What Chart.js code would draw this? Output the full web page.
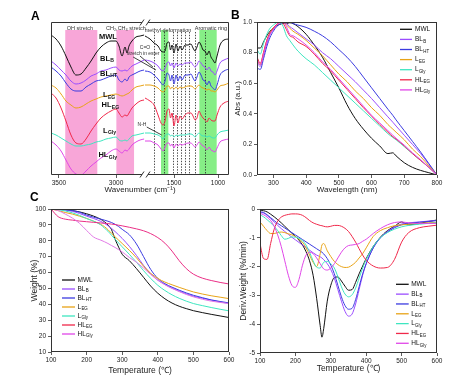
<!DOCTYPE html>
<html><head><meta charset="utf-8">
<script src="https://cdn.jsdelivr.net/npm/chart.js@4.4.1/dist/chart.umd.min.js"></script>
<style>
html,body{margin:0;padding:0;background:#fff;width:474px;height:381px;overflow:hidden;position:relative}
canvas{position:absolute}
.pl{position:absolute;font:bold 12px Arial,"Liberation Sans",sans-serif;color:#000;z-index:5}
</style></head><body>
<canvas id="cA" width="237" height="196" style="left:0;top:0"></canvas>
<canvas id="cB" width="246" height="196" style="left:228px;top:0"></canvas>
<canvas id="cC" width="237" height="191" style="left:0;top:190px"></canvas>
<canvas id="cD" width="246" height="191" style="left:228px;top:190px"></canvas>
<div class="pl" style="left:31px;top:9px">A</div>
<div class="pl" style="left:231px;top:8px">B</div>
<div class="pl" style="left:30px;top:190px">C</div>
<script>
// ---------- shared series info ----------
const seriesNames = [['MWL',''],['BL','B'],['BL','HT'],['L','EG'],['L','Gly'],['HL','EG'],['HL','Gly']];
const seriesColors = ['#111111','#9b4dff','#3b3be0','#e8a317','#3ee6c0','#f0284a','#e046e8'];
const tgaColors = ['#111111','#9b4dff','#3b3be0','#e8a317','#3ee6c0','#ea2f86','#e27ae6'];

// ---------- A: FTIR (transmittance, offset, a.u.) ----------
const ftirWnLeft = [3570,3526,3482,3439,3395,3351,3307,3263,3219,3175,3132,3088,3044,3000,2974,2947,2921,2904,2886,2860,2825,2789,2754];
const ftirWnRight = [1830,1773,1727,1682,1648,1625,1602,1580,1557,1540,1523,1500,1477,1455,1432,1409,1375,1341,1307,1284,1261,1239,1216,1193,1170,1148,1125,1102,1080,1057,1034,1011,977,932,875];
const ftirTicksLeft = [3500, 3000];
const ftirTicksRight = [1500, 1000];
const ftirMWL_L  = [140,136,129,119,108,100,101,107,114,122,128,132,134,134,129,119,128,122,129,134,138,139,140];
const ftirBLB_L  = [114,110,105,100,94,91,92,95,99,101,104,105,107,108,105,104,105,104,106,109,111,113,115];
const ftirBLHT_L = [108,104,99,92,86,84,84,88,91,94,95,97,99,100,95,93,96,94,98,100,102,104,105];
const ftirLEG_L  = [90,87,81,74,70,67,68,71,74,76,78,79,80,81,80,79,80,81,82,85,88,89,90];
const ftirLGly_L = [42,40,37,34,31,29,29,30,31,33,34,36,37,38,35,34,35,34,36,39,40,41,42];
const ftirHLEG_L = [82,77,67,54,40,32,31,36,44,51,57,61,64,66,62,58,60,59,62,67,71,74,75];
const ftirHLGly_L= [34,30,24,15,6,1,0,4,9,13,17,20,24,26,24,22,25,24,26,30,33,35,36];
const ftirMWL_R  = [139,136,132,129,124,123,124,132,133,125,130,122,131,124,129,125,130,130,131,127,124,128,133,130,125,124,120,124,118,115,112,119,130,135,136];
const ftirBLB_R  = [115,114,112,109,105,104,107,112,113,109,112,107,112,109,111,110,112,112,113,110,108,110,114,112,109,108,105,108,104,103,100,104,112,115,117];
const ftirBLHT_R = [104,103,100,96,92,90,94,102,100,94,100,91,100,94,99,95,100,100,101,97,94,98,103,100,95,94,90,94,89,87,85,90,100,104,106];
const ftirLEG_R  = [90,90,89,87,84,83,85,89,89,86,88,86,88,86,88,87,88,89,89,88,86,88,90,88,87,86,85,86,84,84,83,85,89,90,92];
const ftirLGly_R = [42,42,41,40,38,36,39,41,41,39,40,38,40,39,40,40,40,41,41,40,38,40,42,40,39,39,38,39,38,37,37,40,43,44,45];
const ftirHLEG_R = [77,74,70,60,52,50,54,64,66,57,62,49,60,52,59,56,60,62,62,59,55,57,64,60,57,55,53,57,55,54,54,60,68,72,74];
const ftirHLGly_R= [34,34,32,30,26,24,28,32,32,29,31,27,31,29,31,30,31,32,32,30,28,30,33,31,29,28,25,28,25,24,23,27,33,35,36];
const ftirPinkBands = [[3445,3164],[2997,2842]];
const ftirGreenBands = [[1648,1565],[1212,1015]];
const ftirDashedLines = [1733,1614,1514,1468,1420,1373,1325,1267,1148];

// ---------- B: UV-Vis ----------
const uvWavelength = [250,260,270,280,290,300,310,320,330,340,350,360,375,400,425,450,475,500,525,550,575,600,625,650,665,675,700,725,750,775,800];
const uvMWL  = [0.83,0.83,0.87,0.91,0.94,0.96,0.975,0.985,0.99,0.99,0.995,0.99,0.97,0.92,0.85,0.77,0.67,0.57,0.46,0.37,0.30,0.24,0.19,0.14,0.145,0.125,0.08,0.05,0.03,0.015,0.0];
const uvBLB  = [0.73,0.71,0.78,0.86,0.92,0.95,0.98,0.995,1.0,0.99,0.97,0.955,0.93,0.89,0.85,0.80,0.76,0.71,0.66,0.61,0.555,0.50,0.44,0.38,0.345,0.32,0.26,0.20,0.14,0.07,0.0];
const uvBLHT = [0.70,0.69,0.76,0.84,0.90,0.94,0.97,0.985,0.995,1.0,1.0,0.99,0.98,0.965,0.94,0.91,0.87,0.82,0.77,0.71,0.64,0.57,0.50,0.43,0.39,0.36,0.29,0.22,0.15,0.075,0.0];
const uvLEG  = [0.75,0.72,0.80,0.88,0.93,0.96,0.98,0.995,1.0,0.98,0.96,0.94,0.92,0.88,0.83,0.78,0.72,0.66,0.61,0.55,0.50,0.44,0.39,0.33,0.30,0.28,0.23,0.17,0.12,0.06,0.0];
const uvLGly = [0.82,0.79,0.86,0.92,0.96,0.98,0.995,1.0,0.97,0.91,0.88,0.85,0.81,0.76,0.72,0.67,0.62,0.57,0.52,0.47,0.42,0.37,0.32,0.27,0.245,0.23,0.185,0.14,0.095,0.05,0.0];
const uvHLEG = [0.77,0.73,0.80,0.88,0.93,0.96,0.985,1.0,0.99,0.95,0.91,0.90,0.87,0.84,0.79,0.73,0.68,0.62,0.56,0.50,0.44,0.385,0.33,0.28,0.25,0.235,0.19,0.14,0.095,0.05,0.0];
const uvHLGly= [0.75,0.72,0.79,0.87,0.92,0.95,0.98,0.995,1.0,0.97,0.92,0.91,0.89,0.85,0.80,0.74,0.69,0.63,0.57,0.51,0.45,0.39,0.34,0.29,0.26,0.24,0.195,0.145,0.10,0.05,0.0];

// ---------- C: TGA ----------
const tgaTemp = [100,120,140,160,180,200,220,240,250,260,270,280,290,300,320,340,360,380,400,420,440,460,480,500,525,550,575,600];
const tgaMWL  = [100,99.8,99.5,99,98.2,97,95.5,93.5,92,90,87,81,76,71.5,67.5,62.5,57,51.5,47,43.5,40.8,38.8,37.3,36,34.8,33.7,32.7,31.7];
const tgaBLB  = [100,99.8,99.3,98.5,97.2,95.5,94,92.2,91,89.5,87.8,85.8,83.7,81.5,76.5,70.8,64.5,59.3,55.2,52.5,50.2,48.3,46.6,45.1,43.8,42.6,41.5,40.5];
const tgaBLHT = [100,99.9,99.6,99,98,96.2,94.8,93.6,93,92.3,91.5,90.4,89,87.2,83.8,78,70,62,56.3,53,50.8,48.9,47.2,45.7,44.2,42.8,41.8,40.9];
const tgaLEG  = [100,99,97.8,96.8,95.5,94.1,92.3,90.3,88.9,87,84.7,82.5,80.4,78.3,74,69.3,64,59.5,56.3,54,52.3,50.7,49.2,47.8,46.5,45.4,44.5,43.6];
const tgaLGly = [100,99.6,98.8,97.6,96,94,92.3,90,88,86,83.5,81,78.6,76.2,71.5,66.5,61.2,56.3,52,48.7,46,43.8,42,40.5,39.2,38,36.9,35.9];
const tgaHLEG = [100,95.2,93.6,93,92.4,92,91.6,91.2,91,90.8,90.5,90.2,89.8,89.4,88.5,87.5,86.3,84.5,82,78.5,73.5,67.5,62.5,59,56.5,55,53.8,52.8];
const tgaHLGly= [100,99,96.8,94.3,91,86.5,82.3,80.4,79.4,78.3,77,75.8,74.4,73,69.5,66.5,62.8,58.8,55.2,52.3,50,48,46.2,44.7,43.2,42,41.2,40.5];

// ---------- D: DTG ----------
const dtgTemp = [100,110,120,130,140,150,160,170,180,190,200,210,220,230,240,250,260,270,275,280,290,300,310,320,330,340,350,360,370,380,390,400,420,440,460,480,500,520,550,575,600];
const dtgMWL  = [-0.05,-0.06,-0.10,-0.18,-0.27,-0.37,-0.48,-0.60,-0.72,-0.84,-0.95,-1.08,-1.25,-1.48,-1.80,-2.30,-3.10,-4.05,-4.45,-4.15,-3.2,-2.65,-2.38,-2.36,-2.5,-2.68,-2.82,-2.8,-2.55,-2.25,-1.98,-1.72,-1.3,-0.98,-0.75,-0.6,-0.45,-0.55,-0.5,-0.44,-0.38];
const dtgBLB  = [-0.12,-0.14,-0.22,-0.33,-0.45,-0.57,-0.68,-0.78,-0.88,-0.98,-1.07,-1.16,-1.25,-1.34,-1.43,-1.52,-1.6,-1.66,-1.7,-1.76,-1.9,-2.1,-2.4,-2.8,-3.2,-3.55,-3.72,-3.65,-3.3,-2.8,-2.3,-1.9,-1.35,-1.0,-0.78,-0.62,-0.52,-0.48,-0.45,-0.42,-0.4];
const dtgBLHT = [-0.1,-0.12,-0.2,-0.3,-0.4,-0.5,-0.58,-0.66,-0.74,-0.82,-0.9,-0.98,-1.06,-1.14,-1.22,-1.3,-1.38,-1.46,-1.5,-1.56,-1.72,-1.95,-2.25,-2.65,-3.05,-3.35,-3.48,-3.45,-3.15,-2.7,-2.25,-1.9,-1.35,-1.0,-0.8,-0.65,-0.55,-0.5,-0.46,-0.43,-0.4];
const dtgLEG  = [-0.45,-0.6,-0.75,-0.85,-0.85,-0.82,-0.8,-0.82,-0.86,-0.9,-0.95,-1.05,-1.15,-1.35,-1.6,-1.85,-2.0,-1.55,-1.25,-1.2,-1.45,-1.65,-1.82,-1.93,-2.0,-2.03,-2.02,-1.95,-1.85,-1.7,-1.55,-1.35,-0.95,-0.75,-0.65,-0.58,-0.55,-0.53,-0.5,-0.48,-0.46];
const dtgLGly = [-0.2,-0.27,-0.37,-0.48,-0.6,-0.75,-0.92,-1.05,-1.02,-0.97,-0.98,-1.02,-1.1,-1.25,-1.5,-1.8,-2.02,-2.05,-1.95,-1.85,-1.82,-1.9,-2.05,-2.35,-2.7,-2.95,-3.05,-2.98,-2.75,-2.4,-2.05,-1.75,-1.3,-1.0,-0.82,-0.7,-0.62,-0.57,-0.53,-0.5,-0.48];
const dtgHLEG = [-1.2,-1.72,-1.75,-1.2,-0.7,-0.42,-0.28,-0.22,-0.19,-0.17,-0.17,-0.18,-0.22,-0.3,-0.4,-0.48,-0.53,-0.57,-0.58,-0.6,-0.62,-0.6,-0.57,-0.57,-0.6,-0.67,-0.78,-0.95,-1.15,-1.38,-1.6,-1.78,-1.98,-2.05,-2.03,-1.75,-1.15,-0.82,-0.65,-0.6,-0.56];
const dtgHLGly= [-0.15,-0.2,-0.28,-0.4,-0.6,-0.9,-1.3,-1.8,-2.3,-2.65,-2.72,-2.45,-1.95,-1.6,-1.5,-1.55,-1.7,-1.9,-2.0,-2.08,-2.12,-2.05,-1.9,-1.7,-1.5,-1.35,-1.27,-1.25,-1.23,-1.2,-1.12,-1.05,-0.85,-0.68,-0.55,-0.47,-0.45,-0.48,-0.5,-0.5,-0.5];

// ---------- helpers ----------
const FONT = '"Liberation Sans Narrow","Arial Narrow","Liberation Sans",Arial,sans-serif';
Chart.defaults.font.family = FONT;
Chart.defaults.color = '#222';
Chart.defaults.animation = false;

function subText(ctx, parts, x, y, size, bold, align) {
  const [main, sub] = parts;
  const b = bold ? 'bold ' : '';
  ctx.textBaseline = 'middle'; ctx.textAlign = 'left';
  ctx.font = b + size + 'px ' + FONT;
  const mw = ctx.measureText(main).width;
  ctx.font = b + (size * 0.68) + 'px ' + FONT;
  const sw = sub ? ctx.measureText(sub).width : 0;
  const x0 = align === 'center' ? x - (mw + sw) / 2 : x;
  ctx.font = b + size + 'px ' + FONT;
  ctx.fillText(main, x0, y);
  if (sub) { ctx.font = b + (size * 0.68) + 'px ' + FONT; ctx.fillText(sub, x0 + mw + 0.3, y + size * 0.33); }
}

const framePlugin = {
  id: 'frame',
  afterDatasetsDraw(chart, args, opts) {
    const {ctx, chartArea: a} = chart;
    const L = Math.round(a.left) + 0.5, R = Math.round(a.right) - 0.5, T = Math.round(a.top) + 0.5, B = Math.round(a.bottom) - 0.5;
    ctx.save(); ctx.strokeStyle = '#333'; ctx.lineWidth = 1;
    if (opts && opts.breakScale) {
      const bx = Math.round(chart.scales[opts.breakScale].right);
      ctx.beginPath();
      ctx.moveTo(L, T); ctx.lineTo(L, B);
      ctx.moveTo(R, T); ctx.lineTo(R, B);
      ctx.moveTo(L, T); ctx.lineTo(bx - 3, T); ctx.moveTo(bx + 3, T); ctx.lineTo(R, T);
      ctx.moveTo(L, B); ctx.lineTo(bx - 3, B); ctx.moveTo(bx + 3, B); ctx.lineTo(R, B);
      [T, B].forEach(yy => {
        ctx.moveTo(bx - 5, yy + 3); ctx.lineTo(bx - 1, yy - 3);
        ctx.moveTo(bx + 1, yy + 3); ctx.lineTo(bx + 5, yy - 3);
      });
      ctx.stroke();
    } else {
      ctx.strokeRect(L, T, R - L, B - T);
    }
    ctx.restore();
  }
};

const legendPlugin = {
  id: 'seriesLegend',
  afterDraw(chart, args, o) {
    if (!o || !o.x) return;
    const ctx = chart.ctx;
    ctx.save(); ctx.fillStyle = '#111';
    seriesNames.forEach((nm, i) => {
      const y = o.y + i * o.dy;
      ctx.strokeStyle = (o.colors || seriesColors)[i]; ctx.lineWidth = 1.3;
      ctx.beginPath(); ctx.moveTo(o.x, y); ctx.lineTo(o.x + o.len, y); ctx.stroke();
      subText(ctx, nm, o.x + o.len + o.gap, y, o.size, false, 'left');
    });
    ctx.restore();
  }
};

const ftirDecor = {
  id: 'ftirDecor',
  beforeDatasetsDraw(chart) {
    const {ctx, chartArea: a, scales} = chart;
    const top = a.top + 8;
    ctx.save();
    ctx.fillStyle = '#f8a6d8';
    ftirPinkBands.forEach(([w1, w2]) => {
      const x1 = scales.xL.getPixelForValue(w1), x2 = scales.xL.getPixelForValue(w2);
      ctx.fillRect(Math.min(x1, x2), top, Math.abs(x2 - x1), a.bottom - top);
    });
    ctx.fillStyle = '#86ee86';
    ftirGreenBands.forEach(([w1, w2]) => {
      const x1 = scales.xR.getPixelForValue(w1), x2 = scales.xR.getPixelForValue(w2);
      ctx.fillRect(Math.min(x1, x2), top, Math.abs(x2 - x1), a.bottom - top);
    });
    ctx.strokeStyle = '#222'; ctx.lineWidth = 0.8; ctx.setLineDash([1.4, 1.4]);
    ftirDashedLines.forEach(w => {
      const x = Math.round(scales.xR.getPixelForValue(w)) + 0.5;
      ctx.beginPath(); ctx.moveTo(x, top + 2); ctx.lineTo(x, a.bottom); ctx.stroke();
    });
    ctx.restore();
  },
  afterDatasetsDraw(chart) {
    const {ctx, chartArea: a, scales} = chart;
    const xl = v => scales.xL.getPixelForValue(v), xr = v => scales.xR.getPixelForValue(v), yy = v => scales.y.getPixelForValue(v);
    ctx.save();
    ctx.fillStyle = '#333'; ctx.textAlign = 'center'; ctx.textBaseline = 'middle';
    ctx.font = '5.5px ' + FONT;
    ctx.fillText('OH stretch', xl(3316), yy(147));
    ctx.fillText('CH\u2082,CH\u2083 stretch', xl(2913), yy(147));
    ctx.fillText('methyl deformation', xr(1568), yy(144.5));
    ctx.fillText('Aromatic ring', xr(1080), yy(146.5));
    ctx.font = '5px ' + FONT;
    ctx.fillText('C=O', xr(1830), yy(127));
    ctx.fillText('stretch in ester', xl(2763), yy(121.5));
    ctx.fillText('N-H', xl(2772), yy(50.5));
    ctx.strokeStyle = '#111'; ctx.lineWidth = 0.8;
    ctx.beginPath();
    ctx.moveTo(xl(2850), yy(118)); ctx.lineTo(xr(1705), yy(105));
    ctx.moveTo(xl(2790), yy(119)); ctx.lineTo(xr(1740), yy(108));
    ctx.moveTo(xr(1810), yy(48)); ctx.lineTo(xr(1640), yy(40));
    ctx.stroke();
    ctx.fillStyle = '#111';
    // label anchors (wavenumber, offset value) in seriesNames order
    const lab = [[3149,138],[3140,116.5],[3140,101.5],[3114,80],[3114,44.5],[3127,70],[3154,20]];
    lab.forEach(([w, v], i) => subText(ctx, seriesNames[i], xl(w), yy(v), 7.5, true, 'left'));
    ctx.fillStyle = '#222'; ctx.font = '8px ' + FONT; ctx.textAlign = 'center'; ctx.textBaseline = 'middle';
    ctx.fillText('Wavenumber (cm\u207B\u00B9)', (a.left + a.right) / 2, a.bottom + 15);
    ctx.restore();
  }
};

function lineDs(xs, ys, color, extra) {
  return Object.assign({
    data: xs.map((x, k) => ({x, y: ys[k]})),
    borderColor: color, borderWidth: 1, pointRadius: 0, fill: false,
    cubicInterpolationMode: 'monotone'
  }, extra || {});
}
const tickFont = {size: 6.5};
const gridOpts = {drawOnChartArea: false, tickLength: 3, color: '#333', tickWidth: 0.8};
const base = {responsive: false, animation: false, events: [],
  plugins: {legend: {display: false}, tooltip: {enabled: false}}};

// ---------- A ----------
const ftirL = [ftirMWL_L, ftirBLB_L, ftirBLHT_L, ftirLEG_L, ftirLGly_L, ftirHLEG_L, ftirHLGly_L];
const ftirR = [ftirMWL_R, ftirBLB_R, ftirBLHT_R, ftirLEG_R, ftirLGly_R, ftirHLEG_R, ftirHLGly_R];
const dsA = [];
ftirL.forEach((v, i) => {
  dsA.push(lineDs(ftirWnLeft, v, seriesColors[i], {xAxisID: 'xL', yAxisID: 'y'}));
  dsA.push(lineDs(ftirWnRight, ftirR[i], seriesColors[i], {xAxisID: 'xR', yAxisID: 'y'}));
});
const xFtir = (min, max, w, tickVals) => ({
  type: 'linear', position: 'bottom', stack: 'ftir', stackWeight: w, min, max, reverse: true,
  ticks: {font: tickFont, padding: 1, maxRotation: 0, autoSkip: false, callback: v => String(v)},
  afterBuildTicks: s => { s.ticks = tickVals.map(v => ({value: v})); },
  grid: gridOpts, border: {display: false}, afterFit: s => { s.height = 20; }
});
new Chart(document.getElementById('cA'), {
  type: 'line', data: {datasets: dsA},
  options: Object.assign({}, base, {
    layout: {padding: {left: 51, right: 8, top: 22, bottom: 1}},
    plugins: Object.assign({}, base.plugins, {frame: {breakScale: 'xL'}}),
    scales: {xL: xFtir(2746, 3570, 94, ftirTicksLeft), xR: xFtir(875, 1830, 84, ftirTicksRight), y: {display: false, min: 0, max: 153}}
  }),
  plugins: [ftirDecor, framePlugin]
});

// ---------- B ----------
const uvAll = [uvMWL, uvBLB, uvBLHT, uvLEG, uvLGly, uvHLEG, uvHLGly];
new Chart(document.getElementById('cB'), {
  type: 'line',
  data: {datasets: uvAll.map((v, i) => lineDs(uvWavelength, v, seriesColors[i])).reverse()},
  options: Object.assign({}, base, {
    layout: {padding: {left: 0, right: 37, top: 22, bottom: 1}},
    plugins: Object.assign({}, base.plugins, {frame: {}, seriesLegend: {x: 172, y: 29.3, dy: 10.1, len: 12, gap: 3, size: 6.5}}),
    scales: {
      x: {type: 'linear', min: 250, max: 800, ticks: {stepSize: 100, includeBounds: false, font: tickFont, padding: 1, maxRotation: 0},
          grid: gridOpts, border: {display: false},
          title: {display: true, text: 'Wavelength (nm)', font: {size: 8}, padding: {top: 0, bottom: 0}}, afterFit: s => { s.height = 20; }},
      y: {min: 0, max: 1, ticks: {stepSize: 0.2, callback: v => v.toFixed(1), font: tickFont, padding: 2},
          grid: gridOpts, border: {display: false},
          title: {display: true, text: 'Abs (a.u.)', font: {size: 8}, padding: {top: 5, bottom: 0}}, afterFit: s => { s.width = 29; }}
    }
  }),
  plugins: [framePlugin, legendPlugin]
});

// ---------- C ----------
const tgaAll = [tgaMWL, tgaBLB, tgaBLHT, tgaLEG, tgaLGly, tgaHLEG, tgaHLGly];
new Chart(document.getElementById('cC'), {
  type: 'line',
  data: {datasets: tgaAll.map((v, i) => lineDs(tgaTemp, v, tgaColors[i])).reverse()},
  options: Object.assign({}, base, {
    layout: {padding: {left: 0, right: 8, top: 19, bottom: 5}},
    plugins: Object.assign({}, base.plugins, {frame: {}, seriesLegend: {x: 62, y: 90, dy: 9, len: 13, gap: 2.5, size: 6.5, colors: seriesColors}}),
    scales: {
      x: {type: 'linear', min: 100, max: 600, ticks: {stepSize: 100, font: tickFont, padding: 1, maxRotation: 0},
          grid: gridOpts, border: {display: false},
          title: {display: true, text: 'Temperature (\u2103)', font: {size: 8.5}, padding: {top: 0, bottom: 0}}, afterFit: s => { s.height = 24; }},
      y: {min: 10, max: 100, ticks: {stepSize: 10, font: tickFont, padding: 2},
          grid: gridOpts, border: {display: false},
          title: {display: true, text: 'Weight (%)', font: {size: 8.5}, padding: {top: 30, bottom: 0}}, afterFit: s => { s.width = 51; }}
    }
  }),
  plugins: [framePlugin, legendPlugin]
});

// ---------- D ----------
const dtgAll = [dtgMWL, dtgBLB, dtgBLHT, dtgLEG, dtgLGly, dtgHLEG, dtgHLGly];
new Chart(document.getElementById('cD'), {
  type: 'line',
  data: {datasets: dtgAll.map((v, i) => lineDs(dtgTemp, v, seriesColors[i])).reverse()},
  options: Object.assign({}, base, {
    layout: {padding: {left: 0, right: 37, top: 19, bottom: 4}},
    plugins: Object.assign({}, base.plugins, {frame: {}, seriesLegend: {x: 168, y: 94.3, dy: 9.83, len: 12.7, gap: 2.5, size: 6.5}}),
    scales: {
      x: {type: 'linear', min: 100, max: 600, ticks: {stepSize: 100, font: tickFont, padding: 1, maxRotation: 0},
          grid: gridOpts, border: {display: false},
          title: {display: true, text: 'Temperature (\u2103)', font: {size: 8.5}, padding: {top: 0, bottom: 3.6}}, afterFit: s => { s.height = 24; }},
      y: {min: -5, max: 0, ticks: {stepSize: 1, font: tickFont, padding: 2},
          grid: gridOpts, border: {display: false},
          title: {display: true, text: 'Deriv.Weight (%/min)', font: {size: 8.5}, padding: {top: 10.6, bottom: 0}}, afterFit: s => { s.width = 32; }}
    }
  }),
  plugins: [framePlugin, legendPlugin]
});
</script>
</body></html>
